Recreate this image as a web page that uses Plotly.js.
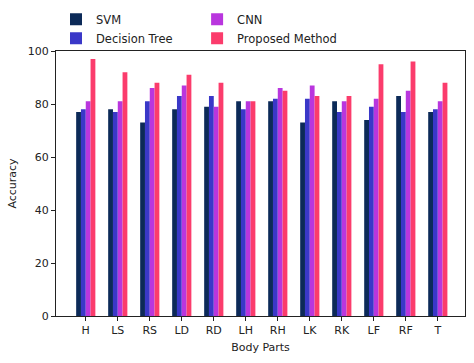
<!DOCTYPE html>
<html>
<head>
<meta charset="utf-8">
<script src="https://cdn.plot.ly/plotly-3.0.1.min.js"></script>
<style>html,body{margin:0;padding:0;background:#fff;}#chart{width:474px;height:363px;}</style>
</head>
<body>
<div id="chart"></div>
<script>
const categories = ["H","LS","RS","LD","RD","LH","RH","LK","RK","LF","RF","T"];
const svm      = [77, 78, 73, 78, 79, 81, 81, 73, 81, 74, 83, 77];
const decTree  = [78, 77, 81, 83, 83, 78, 82, 82, 77, 79, 77, 78];
const cnn      = [81, 81, 86, 87, 79, 81, 86, 87, 81, 82, 85, 81];
const proposed = [97, 92, 88, 91, 88, 81, 85, 83, 83, 95, 96, 88];
const seriesNames = ["SVM","Decision Tree","CNN","Proposed Method"];
const colors = ["#0c2a58","#3a38c8","#b936de","#fb3c6c"];

const values = [svm, decTree, cnn, proposed];
const legends = ["legend","legend","legend2","legend2"];
const data = values.map((v,i)=>({
  type:"bar", x:categories, y:v, name:seriesNames[i],
  marker:{color:colors[i], line:{width:0}},
  legend:legends[i]
}));

const font = {family:"DejaVu Sans, sans-serif", size:11, color:"#222"};
const legFont = {family:"DejaVu Sans, sans-serif", size:11.5, color:"#222"};
const layout = {
  width:474, height:363,
  margin:{l:56, r:9, t:51, b:47, autoexpand:false},
  paper_bgcolor:"#fff", plot_bgcolor:"#fff",
  font:font,
  barmode:"group", bargap:0.4, bargroupgap:0,
  showlegend:true,
  legend:{x:0.0, y:1.175, xanchor:"left", yanchor:"top", orientation:"v",
          bgcolor:"rgba(0,0,0,0)", font:legFont, tracegroupgap:0, itemwidth:30},
  legend2:{x:0.345, y:1.175, xanchor:"left", yanchor:"top", orientation:"v",
          bgcolor:"rgba(0,0,0,0)", font:legFont, tracegroupgap:0, itemwidth:30},
  xaxis:{
    range:[-0.93, 11.85], showgrid:false, zeroline:false,
    showline:true, linecolor:"#222", linewidth:1, mirror:true,
    ticks:"outside", ticklen:4, tickcolor:"#222",
    tickfont:font,
    title:{text:"Body Parts", font:font, standoff:7}
  },
  yaxis:{
    range:[0,100], dtick:20, showgrid:false, zeroline:false,
    showline:true, linecolor:"#222", linewidth:1, mirror:true,
    ticks:"outside", ticklen:4, tickcolor:"#222",
    tickfont:font,
    title:{text:"Accuracy", font:font, standoff:8}
  }
};
Plotly.newPlot("chart", data, layout, {displayModeBar:false, staticPlot:true});
</script>
</body>
</html>
